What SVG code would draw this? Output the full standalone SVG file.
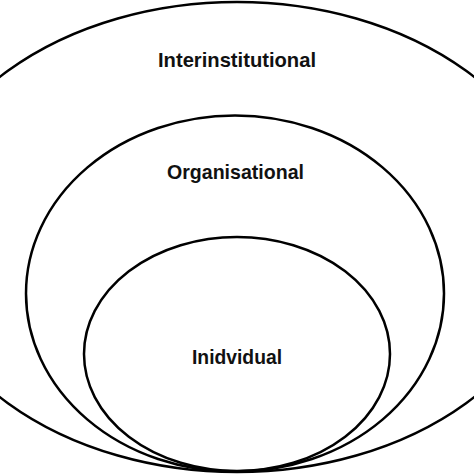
<svg xmlns="http://www.w3.org/2000/svg" width="474" height="474" viewBox="0 0 474 474">
<style>
.ring{fill:none;stroke:#000;stroke-width:2.5}
.lbl{font-family:"Liberation Sans",Arial,sans-serif;font-weight:bold;font-size:21px;fill:#111;text-anchor:middle}
</style>
<rect width="474" height="474" fill="#fff"/>
<g id="interinstitutional">
<ellipse class="ring" cx="237" cy="237" rx="324" ry="235"/>
<text class="lbl" x="237" y="66.5" textLength="158" lengthAdjust="spacingAndGlyphs">Interinstitutional</text>
</g>
<g id="organisational">
<ellipse class="ring" cx="235" cy="293.5" rx="209" ry="178"/>
<text class="lbl" x="235.5" y="178.5" textLength="137" lengthAdjust="spacingAndGlyphs">Organisational</text>
</g>
<g id="individual">
<ellipse class="ring" cx="237" cy="354" rx="153" ry="117"/>
<text class="lbl" x="237" y="363.5" textLength="90" lengthAdjust="spacingAndGlyphs">Inidvidual</text>
</g>
<g id="connectors"/>
</svg>
